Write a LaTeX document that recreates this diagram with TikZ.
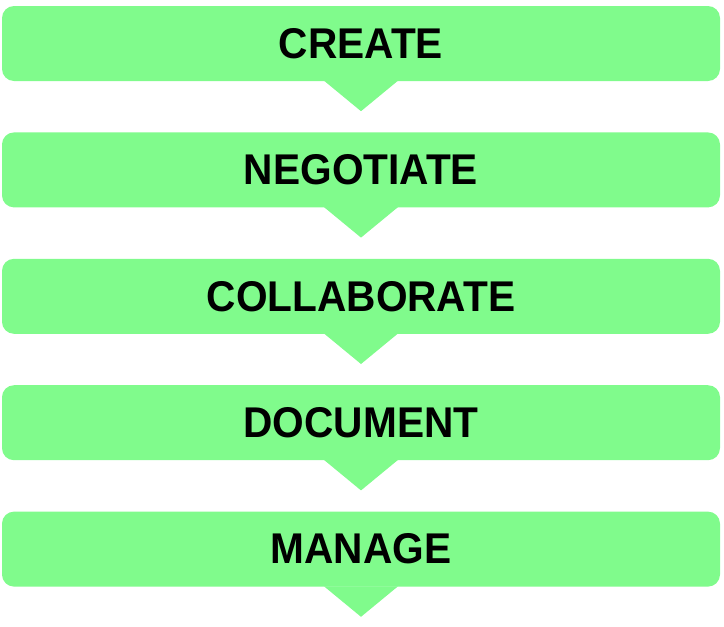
\documentclass[tikz,border=0pt]{standalone}
\usepackage{fontspec}
\setmainfont{Liberation Sans}[FakeStretch=0.945]
\usetikzlibrary{positioning,calc}
\definecolor{stepgreen}{RGB}{128,251,140}
\tikzset{
	every node/.style={
		font=\bfseries\fontsize{43}{43}\selectfont
	},
	stage/.style={
		shape=rectangle,
		minimum width=718pt,
		minimum height=75pt,
		text centered,
		rounded corners=12pt,
		fill=stepgreen,
		inner sep=0pt,
	},
	pointer/.style={
		fill=stepgreen,
	},
}

\begin{document}
\begin{tikzpicture}[x=1pt,y=1pt,node distance=51pt]
	\useasboundingbox (0,0) rectangle (724,-627);

	% Etapas
	\node[stage] (create)      at (361,-43.5)        {CREATE};
	\node[stage] (negotiate)   [below=of create]     {NEGOTIATE};
	\node[stage] (collaborate) [below=of negotiate]  {COLLABORATE};
	\node[stage] (document)    [below=of collaborate]{DOCUMENT};
	\node[stage] (manage)      [below=of document]   {MANAGE};

	% Flechas triangulares
	\foreach \n in {create,negotiate,collaborate,document,manage}
		\fill[pointer] ($(\n.south)+(-37,0.5)$) -- ($(\n.south)+(37,0.5)$) -- ($(\n.south)+(0,-30)$) -- cycle;
\end{tikzpicture}
\end{document}
